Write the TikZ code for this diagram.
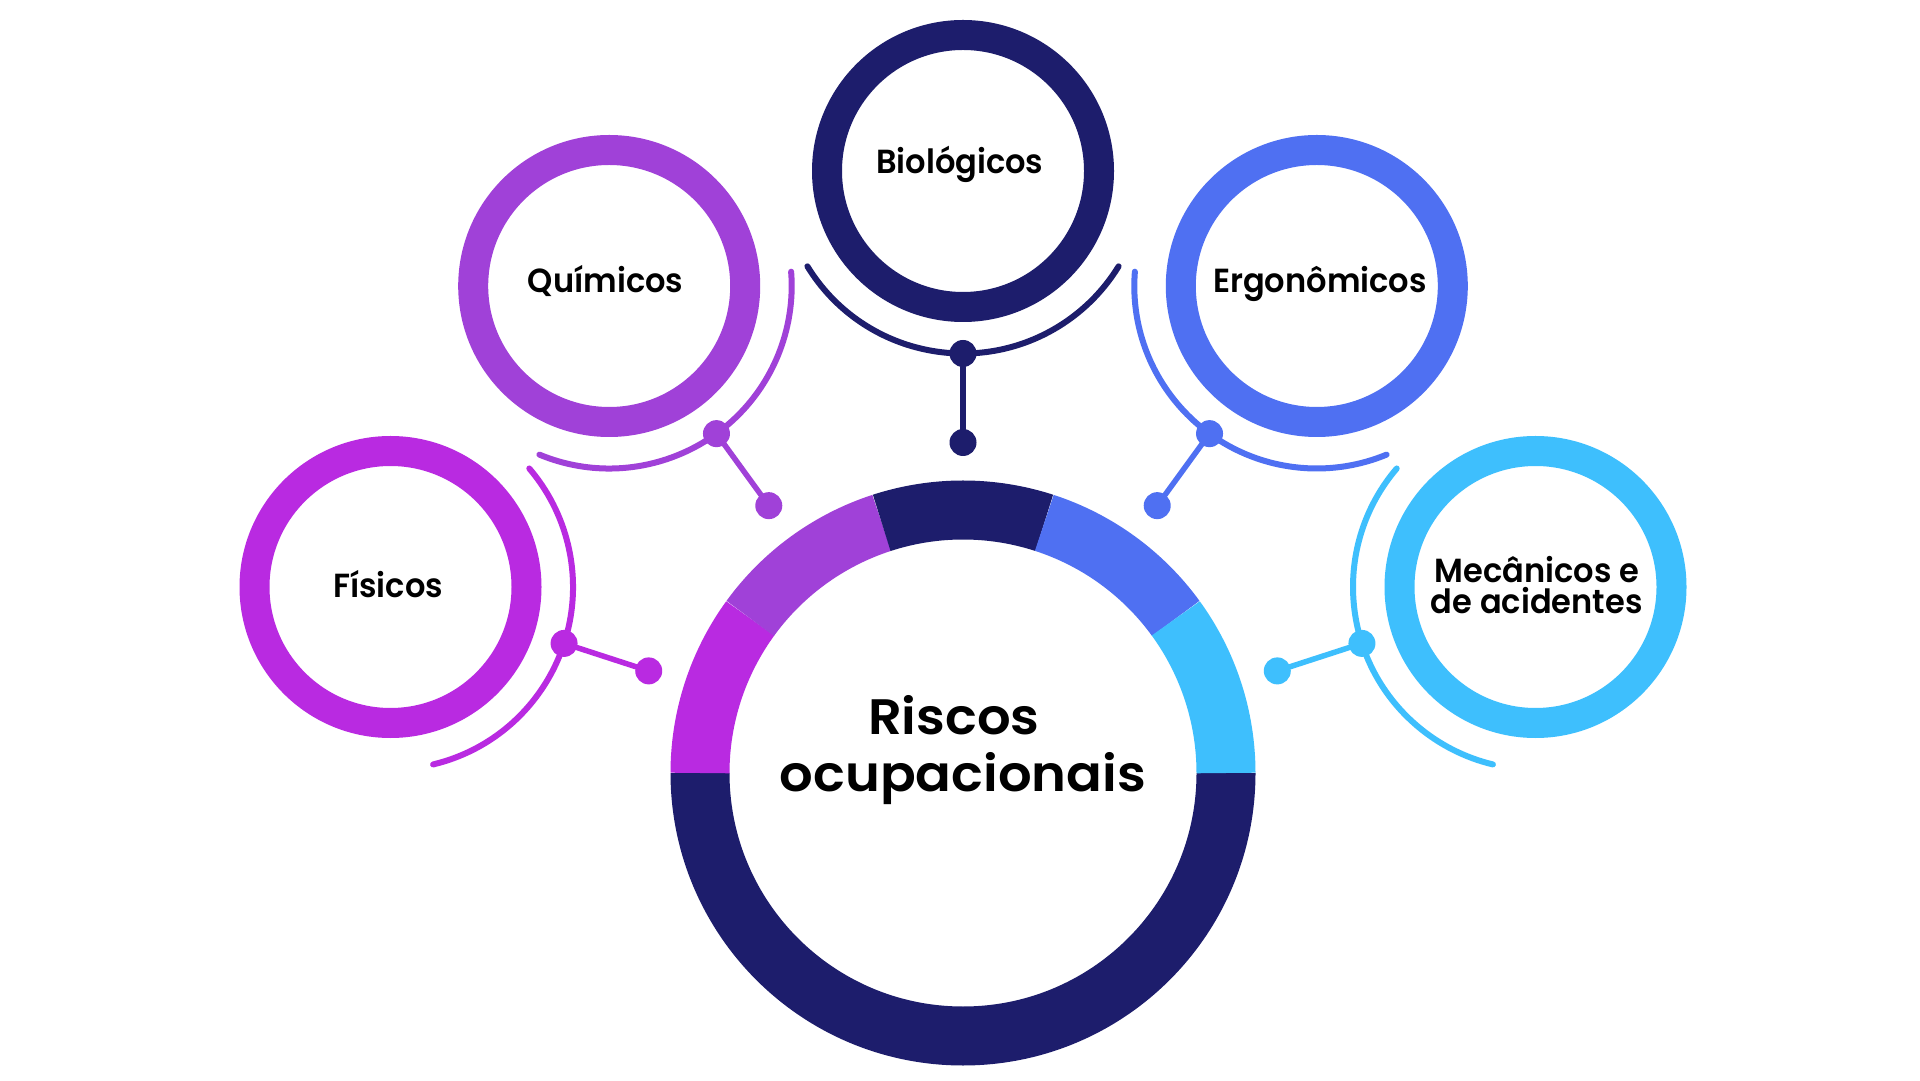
\documentclass[tikz,border=0pt]{standalone}
\usepackage{fontspec}
\setmainfont{Poppins}
\newfontfamily\semib{Poppins SemiBold}[FakeStretch=0.96]
\newfontfamily\semibw{Poppins SemiBold}[FakeStretch=1.06]
\definecolor{cfis}{HTML}{B92AE1}
\definecolor{cqui}{HTML}{A041D8}
\definecolor{cbio}{HTML}{1D1D6C}
\definecolor{cerg}{HTML}{4F70F2}
\definecolor{cmec}{HTML}{3EBFFD}
\newcommand\tightls{\lineskiplimit-100pt\relax}
\newcommand\lblfont{\semib\fontsize{33.4}{31.7}\selectfont\tightls}
\newcommand\ttlfont{\semibw\fontsize{49.8}{57.7}\selectfont\tightls}
\begin{document}
\begin{tikzpicture}[x=1pt,y=1pt,
  ring/.style={circle, draw=#1, line width=30pt, minimum size=272pt, inner sep=0pt, outer sep=0pt},
  hub/.style={line width=59pt, draw=#1},
  arcline/.style={draw=#1, line width=6pt, line cap=round},
  link/.style={draw=#1, line width=5.5pt, line cap=round},
  dot/.style={circle, fill=#1, minimum size=27pt, inner sep=0pt, outer sep=0pt},
  lbl/.style={font=\lblfont, anchor=base, align=center, inner sep=0pt},
  ttl/.style={font=\ttlfont, anchor=base, align=center, inner sep=0pt}
]
\useasboundingbox (0,0) rectangle (1920,1080);
\fill[white] (0,0) rectangle (1920,1080);
\coordinate (hubc) at (963,307);
% central ring segments
\draw[hub=cbio] (hubc) ++(0:263) arc[start angle=0, end angle=-180, radius=263];
\draw[hub=cfis] (hubc) ++(180:263) arc[start angle=180, end angle=144, radius=263];
\draw[hub=cqui] (hubc) ++(144:263) arc[start angle=144, end angle=108, radius=263];
\draw[hub=cbio] (hubc) ++(108:263) arc[start angle=108, end angle=72, radius=263];
\draw[hub=cerg] (hubc) ++(72:263) arc[start angle=72, end angle=36, radius=263];
\draw[hub=cmec] (hubc) ++(36:263) arc[start angle=36, end angle=0, radius=263];
% category rings
\node[ring=cfis] (fis) at (390.5,493.0) {};
\node[ring=cqui] (qui) at (609.2,794.0) {};
\node[ring=cbio] (bio) at (963,909) {};
\node[ring=cerg] (erg) at (1316.8,794.0) {};
\node[ring=cmec] (mec) at (1535.5,493.0) {};
% outer arcs
\draw[arcline=cfis] (fis.center) ++(-76.5:182.5) arc[start angle=-76.5, end angle=40.5, radius=182.5];
\draw[arcline=cqui] (qui.center) ++(-112.5:182.5) arc[start angle=-112.5, end angle=4.5, radius=182.5];
\draw[arcline=cbio] (bio.center) ++(211.5:182.5) arc[start angle=211.5, end angle=328.5, radius=182.5];
\draw[arcline=cerg] (erg.center) ++(175.5:182.5) arc[start angle=175.5, end angle=292.5, radius=182.5];
\draw[arcline=cmec] (mec.center) ++(139.5:182.5) arc[start angle=139.5, end angle=256.5, radius=182.5];
% junction and end dots
\path (fis.center) ++(-18:182.5) node[dot=cfis] (fisJ) {};
\path (fis.center) ++(-18:271.5) node[dot=cfis] (fisE) {};
\path (qui.center) ++(-54:182.5) node[dot=cqui] (quiJ) {};
\path (qui.center) ++(-54:271.5) node[dot=cqui] (quiE) {};
\path (bio.center) ++(270:182.5) node[dot=cbio] (bioJ) {};
\path (bio.center) ++(270:271.5) node[dot=cbio] (bioE) {};
\path (erg.center) ++(234:182.5) node[dot=cerg] (ergJ) {};
\path (erg.center) ++(234:271.5) node[dot=cerg] (ergE) {};
\path (mec.center) ++(198:182.5) node[dot=cmec] (mecJ) {};
\path (mec.center) ++(198:271.5) node[dot=cmec] (mecE) {};
% connectors
\draw[link=cfis] (fisJ) -- (fisE);
\draw[link=cqui] (quiJ) -- (quiE);
\draw[link=cbio, line width=6.5pt] (bioJ) -- (bioE);
\draw[link=cerg] (ergJ) -- (ergE);
\draw[link=cmec] (mecJ) -- (mecE);
% labels
\node[lbl] (fisT) at (388,482.7) {Físicos};
\node[lbl] (quiT) at (605.7,787.3) {Químicos};
\node[lbl] (bioT) at (959.8,906) {Biológicos};
\node[lbl] (ergT) at (1320,787.7) {Ergonômicos};
\node[lbl] (mecT) at (1536.7,466) {Mecânicos e\\de acidentes};
\node[ttl] (hubT) at (962.8,288.3) {Riscos\kern18pt\\ocupacionais};
\end{tikzpicture}
\end{document}
